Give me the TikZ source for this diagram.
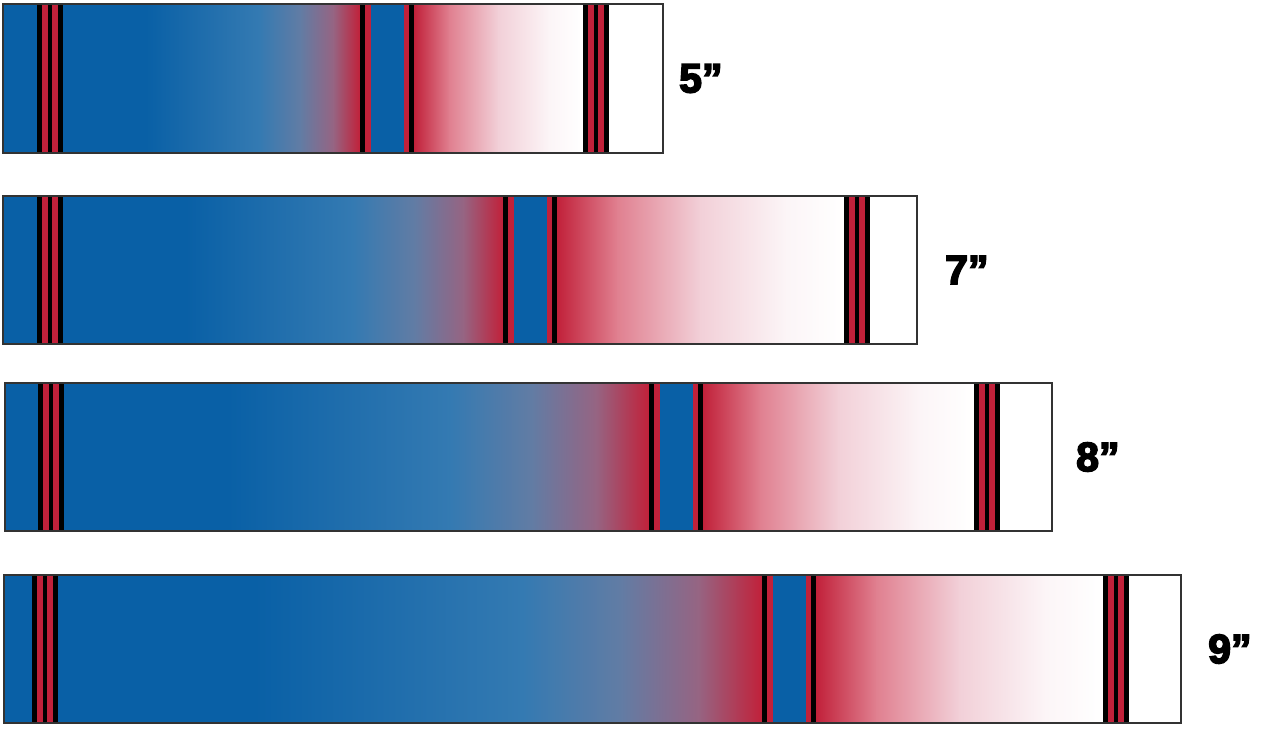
\documentclass[tikz,border=0pt]{standalone}
\usepackage{fontspec}
\setmainfont{Liberation Sans}[BoldFeatures={FakeBold=4}]
\usepackage{tikz}
\usepackage{xcolor}

\definecolor{barblue}{RGB}{9,96,166}
\definecolor{lightblue}{RGB}{52,122,178}
\definecolor{greyblue}{RGB}{98,124,164}
\definecolor{mauve}{RGB}{150,100,130}
\definecolor{barred}{RGB}{193,33,58}
\definecolor{rosered}{RGB}{224,128,144}
\definecolor{palerose}{RGB}{242,208,216}
\definecolor{nearwhite}{RGB}{252,245,247}

\tikzset{
  barline/.style={draw=black!80, line width=1.1pt},
  sizelabel/.style={font=\fontsize{41}{41}\selectfont\bfseries, anchor=west, inner sep=0pt}
}

\begin{document}
\begin{tikzpicture}[x=1pt, y=-1pt]
    \useasboundingbox (0,0) rectangle (1280,729);

    % top / bottom / left / right / left stripes / middle band / right stripes / label / label x
    \foreach \t/\b/\l/\r/\ls/\ms/\rs/\lab/\lx in {
        4/153/3/663/37/360/583/5/679,
        196/344/3/917/37/503/844/7/945,
        383/531/5/1052/38/649/974/8/1076,
        575/723/4/1181/32/762/1103/9/1208}{
        \pgfmathsetmacro{\ba}{\ls+25.5}
        \pgfmathsetmacro{\w}{\ms-\ba}
        \pgfmathsetmacro{\ga}{\ba+0.28*\w}
        \pgfmathsetmacro{\gb}{\ba+0.66*\w}
        \pgfmathsetmacro{\gc}{\ba+0.80*\w}
        \pgfmathsetmacro{\gd}{\ba+0.91*\w}
        \pgfmathsetmacro{\fa}{\ms+54}
        \pgfmathsetmacro{\v}{\rs-\fa}
        \pgfmathsetmacro{\fb}{\fa+0.21*\v}
        \pgfmathsetmacro{\fc}{\fa+0.50*\v}
        \pgfmathsetmacro{\fd}{\fa+0.80*\v}

        % blue before the left stripes
        \fill[barblue] (\l,\t) rectangle (\ls,\b);
        % left stripes
        \fill[black] (\ls,\t) rectangle (\ba,\b);
        \fill[barred] ({\ls+5},\t) rectangle ({\ls+10.5},\b);
        \fill[barred] ({\ls+15},\t) rectangle ({\ls+20.5},\b);

        % blue to red fade
        \fill[barblue] (\ba,\t) rectangle ({\ga+0.5},\b);
        \shade[left color=barblue, right color=lightblue] (\ga,\t) rectangle ({\gb+0.5},\b);
        \shade[left color=lightblue, right color=greyblue] (\gb,\t) rectangle ({\gc+0.5},\b);
        \shade[left color=greyblue, right color=mauve] (\gc,\t) rectangle ({\gd+0.5},\b);
        \shade[left color=mauve, right color=barred] (\gd,\t) rectangle (\ms,\b);

        % middle band
        \fill[black] (\ms,\t) rectangle ({\ms+5},\b);
        \fill[barred] ({\ms+5},\t) rectangle ({\ms+10.5},\b);
        \fill[barblue] ({\ms+10.5},\t) rectangle ({\ms+43.5},\b);
        \fill[barred] ({\ms+43.5},\t) rectangle ({\ms+49},\b);
        \fill[black] ({\ms+49},\t) rectangle (\fa,\b);

        % red to white fade
        \shade[left color=barred, right color=rosered] (\fa,\t) rectangle ({\fb+0.5},\b);
        \shade[left color=rosered, right color=palerose] (\fb,\t) rectangle ({\fc+0.5},\b);
        \shade[left color=palerose, right color=nearwhite] (\fc,\t) rectangle ({\fd+0.5},\b);
        \shade[left color=nearwhite, right color=white] (\fd,\t) rectangle (\rs,\b);

        % right stripes
        \fill[black] (\rs,\t) rectangle ({\rs+25.5},\b);
        \fill[barred] ({\rs+5},\t) rectangle ({\rs+10.5},\b);
        \fill[barred] ({\rs+15},\t) rectangle ({\rs+20.5},\b);

        % outline
        \draw[barline] (\l,\t) rectangle (\r,\b);

        % size
        \node[sizelabel] (size\lab) at (\lx, {(\t+\b)/2}) {\lab”};
    }
\end{tikzpicture}
\end{document}
